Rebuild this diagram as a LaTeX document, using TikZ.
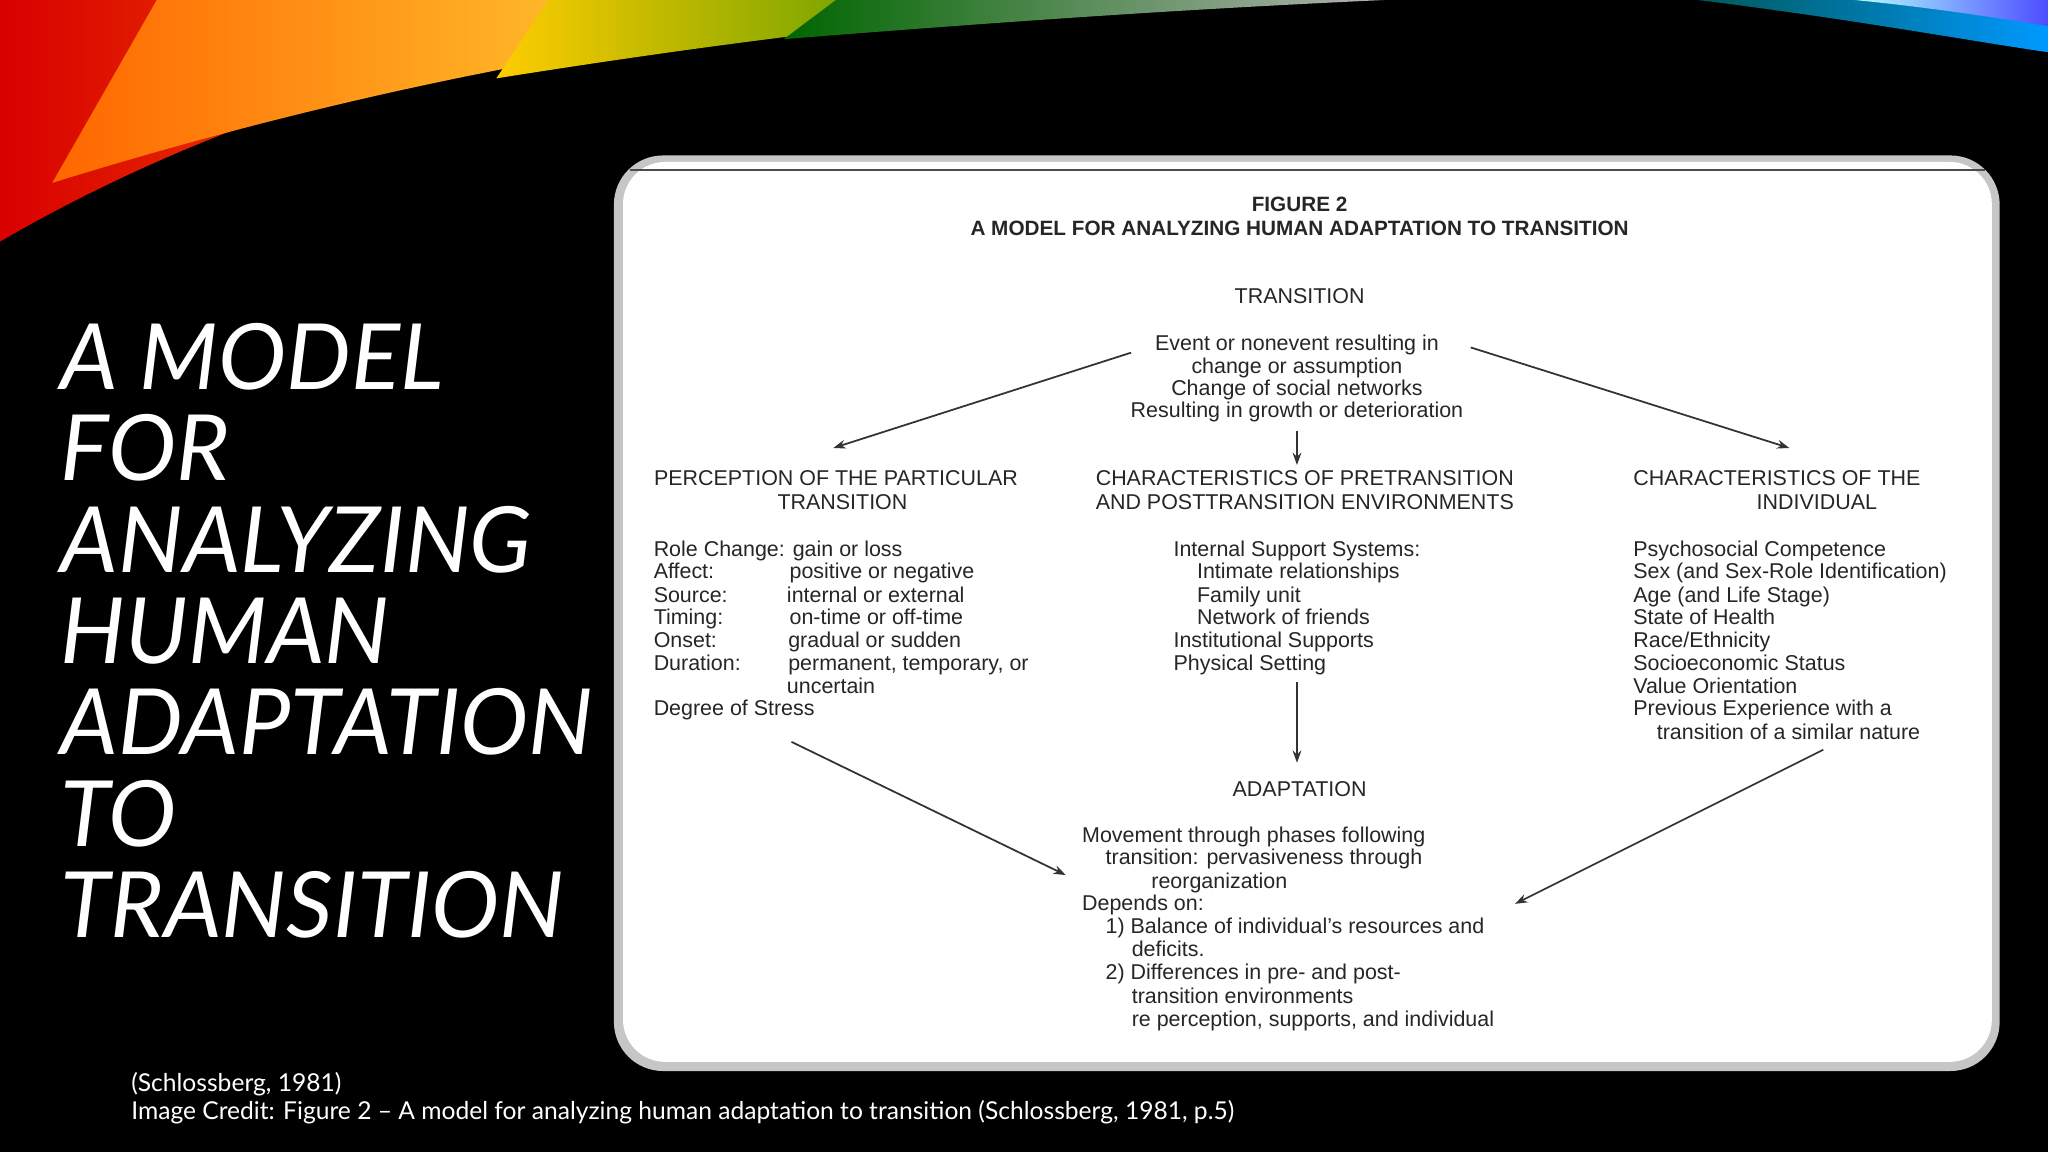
\documentclass[tikz,border=0pt]{standalone}
\usepackage{fontspec}
\setmainfont{Liberation Sans}
\newfontfamily\titlefont{Lato}
\usetikzlibrary{arrows.meta}
\begin{document}
\begin{tikzpicture}[x=0.013061cm,y=-0.013061cm,
  dt/.style={font=\fontsize{6.1}{7}\selectfont,inner sep=0,anchor=base west,text=black!85},
  dc/.style={dt,anchor=base},
  hb/.style={dc,font=\fontsize{5.9}{7}\selectfont\bfseries},
  ar/.style={draw=black!80,line width=0.5pt,-{Stealth[length=3.5pt,width=2.5pt]}},
  tt/.style={font=\titlefont\itshape\fontsize{26}{26}\selectfont,text=white,inner sep=0,anchor=base west},
  ft/.style={font=\titlefont\fontsize{7}{8}\selectfont,text=white,inner sep=0,anchor=base west}]
\fill[black] (0,0) rectangle (1568,882);
\useasboundingbox (0,0) rectangle (1568,882);
% swooshes
\shade[left color=red!85!black,right color=orange] (0,0) -- (560,0) .. controls (380,30) and (180,80) .. (0,185) -- cycle;
\shade[left color=orange!80!red,right color=yellow!70] (120,0) -- (760,0) .. controls (560,20) and (330,50) .. (40,140) -- cycle;
\shade[left color=yellow!60!orange,right color=green!50!black] (420,0) -- (900,0) .. controls (750,10) and (600,25) .. (380,60) -- cycle;
\shade[left color=green!40!black,right color=gray!60] (640,0) -- (1060,0) .. controls (930,6) and (800,14) .. (600,30) -- cycle;
\shade[left color=teal!70!black,right color=cyan!60!blue] (1300,0) -- (1568,0) -- (1568,40) .. controls (1500,30) and (1420,15) .. (1300,0) -- cycle;
\shade[left color=cyan!30,right color=blue!70] (1420,0) -- (1568,0) -- (1568,20) .. controls (1520,12) and (1470,5) .. (1420,0) -- cycle;
% panel
\fill[gray!45,rounded corners=14] (470,119) rectangle (1531,820);
\fill[white,rounded corners=12] (477,124) rectangle (1525,813);
\draw[black!70,line width=0.6pt] (482,130) -- (1520,130);
% headings
\node[hb] (fig) at (995,162) {FIGURE 2};
\node[hb] (ttl) at (995,180) {A MODEL FOR ANALYZING HUMAN ADAPTATION TO TRANSITION};
\node[dc] (tr) at (995,232) {TRANSITION};
\node[dc] (e1) at (993,268) {Event or nonevent resulting in};
\node[dc] (e2) at (993,286) {change or assumption};
\node[dc] (e3) at (993,303) {Change of social networks};
\node[dc] (e4) at (993,320) {Resulting in growth or deterioration};
\coordinate (eL) at (866,270); \coordinate (eR) at (1126,266); \coordinate (eB) at (993,330);
\node[dc] (p1) at (640,372) {PERCEPTION OF THE PARTICULAR};
\node[dc] (p2) at (645,390) {TRANSITION};
\node[dc] (m1) at (999,372) {CHARACTERISTICS OF PRETRANSITION};
\node[dc] (m2) at (999,390) {AND POSTTRANSITION ENVIRONMENTS};
\node[dt] (r1) at (1250,372) {CHARACTERISTICS OF THE};
\node[dc] (r2) at (1391,390) {INDIVIDUAL};
\draw[ar] (eL) -- (638,343);
\draw[ar] (eR) -- (1370,343);
\draw[ar] (eB) -- (993,356);
% left list
\node[dt] (l1) at (500,426) {Role Change: gain or loss};
\node[dt] (l2) at (500,443) {Affect:}; \node[dt] (l2v) at (604,443) {positive or negative};
\node[dt] (l3) at (500,461) {Source:}; \node[dt] (l3v) at (602,461) {internal or external};
\node[dt] (l4) at (500,478) {Timing:}; \node[dt] (l4v) at (604,478) {on-time or off-time};
\node[dt] (l5) at (500,496) {Onset:}; \node[dt] (l5v) at (603,496) {gradual or sudden};
\node[dt] (l6) at (500,513) {Duration:}; \node[dt] (l6v) at (603,513) {permanent, temporary, or};
\node[dt] (l7v) at (602,531) {uncertain};
\node[dt] (l8) at (500,548) {Degree of Stress};
% middle list
\node[dt] (s1) at (898,426) {Internal Support Systems:};
\node[dt] (s2) at (916,443) {Intimate relationships};
\node[dt] (s3) at (916,461) {Family unit};
\node[dt] (s4) at (916,478) {Network of friends};
\node[dt] (s5) at (898,496) {Institutional Supports};
\node[dt] (s6) at (898,513) {Physical Setting};
% right list
\node[dt] (i1) at (1250,426) {Psychosocial Competence};
\node[dt] (i2) at (1250,443) {Sex (and Sex-Role Identification)};
\node[dt] (i3) at (1250,461) {Age (and Life Stage)};
\node[dt] (i4) at (1250,478) {State of Health};
\node[dt] (i5) at (1250,496) {Race/Ethnicity};
\node[dt] (i6) at (1250,513) {Socioeconomic Status};
\node[dt] (i7) at (1250,531) {Value Orientation};
\node[dt] (i8) at (1250,548) {Previous Experience with a};
\node[dt] (i9) at (1268,566) {transition of a similar nature};
% adaptation
\coordinate (mB) at (993,522);
\draw[ar] (mB) -- (993,584);
\node[dc] (ad) at (995,610) {ADAPTATION};
\node[dt] (a1) at (828,645) {Movement through phases following};
\node[dt] (a2) at (846,662) {transition: pervasiveness through};
\node[dt] (a3) at (881,680) {reorganization};
\node[dt] (a4) at (828,697) {Depends on:};
\node[dt] (a5) at (846,715) {1) Balance of individual's resources and};
\node[dt] (a6) at (866,732) {deficits.};
\node[dt] (a7) at (846,750) {2) Differences in pre- and post-};
\node[dt] (a8) at (866,768) {transition environments};
\node[dt] (a9) at (866,786) {re perception, supports, and individual};
\coordinate (lB) at (606,568); \coordinate (rB) at (1396,574);
\draw[ar] (lB) -- (816,670);
\draw[ar] (rB) -- (1160,692);
% title
\node[tt] (t1) at (46,298) {A MODEL};
\node[tt] (t2) at (46,368) {FOR};
\node[tt] (t3) at (46,438) {ANALYZING};
\node[tt] (t4) at (46,508) {HUMAN};
\node[tt] (t5) at (46,578) {ADAPTATION};
\node[tt] (t6) at (46,648) {TO};
\node[tt] (t7) at (46,718) {TRANSITION};
\node[ft] (f1) at (100,836) {(Schlossberg, 1981)};
\node[ft] (f2) at (100,857) {Image Credit: Figure 2 \textendash{} A model for analyzing human adaptation to transition (Schlossberg, 1981, p.5)};
\end{tikzpicture}
\end{document}
